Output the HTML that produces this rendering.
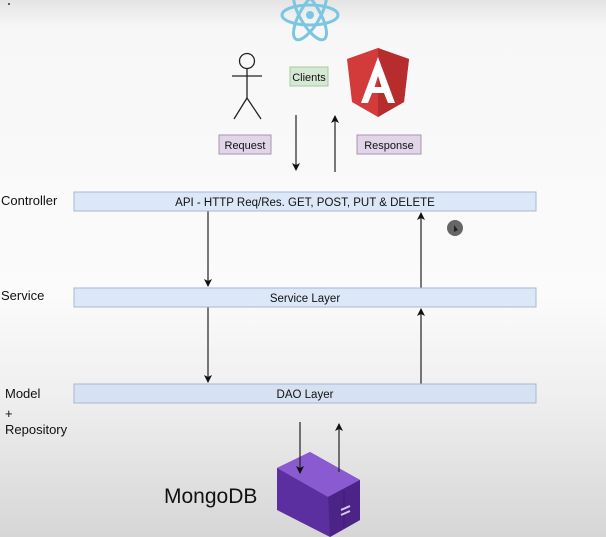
<!DOCTYPE html>
<html><head><meta charset="utf-8"><style>
html,body{margin:0;padding:0;width:606px;height:537px;overflow:hidden}
svg{display:block}
text{font-family:"Liberation Sans",sans-serif}
</style></head><body>
<svg width="606" height="537" viewBox="0 0 606 537" xmlns="http://www.w3.org/2000/svg">
<defs>
<linearGradient id="bg" x1="0" y1="0" x2="0" y2="1">
<stop offset="0" stop-color="#e4e4e4"/>
<stop offset="0.05" stop-color="#f7f7f7"/>
<stop offset="0.55" stop-color="#fbfbfb"/>
<stop offset="0.75" stop-color="#eeeeee"/>
<stop offset="1" stop-color="#d6d6d6"/>
</linearGradient>
<marker id="ah" markerWidth="8" markerHeight="8" refX="7" refY="4" orient="auto" markerUnits="userSpaceOnUse">
<path d="M0,0 L8,4 L0,8 L2,4 z" fill="#111"/>
</marker>
</defs>
<rect width="606" height="537" fill="url(#bg)"/>
<circle cx="9" cy="4" r="1" fill="#333"/>
<g transform="translate(310,15)" fill="none" stroke="#7cc6e2" stroke-width="3">
<ellipse rx="28" ry="10"/>
<ellipse rx="28" ry="10" transform="rotate(60)"/>
<ellipse rx="28" ry="10" transform="rotate(-60)"/>
<circle r="4" fill="#7cc6e2" stroke="none"/>
</g>
<g stroke="#222" stroke-width="1.3" fill="none">
<circle cx="247" cy="61" r="7.5"/>
<line x1="247" y1="69" x2="247" y2="98"/>
<line x1="232" y1="76" x2="262" y2="76"/>
<line x1="247" y1="98" x2="234" y2="119"/>
<line x1="247" y1="98" x2="261" y2="119"/>
</g>
<rect x="290" y="67" width="38" height="19" fill="#d5e8d4" stroke="#a8c8a0"/>
<text x="309" y="81" font-size="11" text-anchor="middle" fill="#111">Clients</text>
<path d="M347,59 L378,48 L409,59 L404,102 L378,117 L352,102 Z" fill="#d33a3a"/>
<path d="M378,48 L409,59 L404,102 L378,117 Z" fill="#b72d2d"/>
<path d="M378,57 L361,103 L368,103 L372,93 L384,93 L388,103 L395,103 Z M374.5,87 L378,76 L381.5,87 Z" fill="#fff"/>
<rect x="219" y="135" width="52" height="19" fill="#e1d5e7" stroke="#a893b3"/>
<text x="245" y="149" font-size="11" text-anchor="middle" fill="#111">Request</text>
<rect x="357" y="135" width="64" height="19" fill="#e1d5e7" stroke="#a893b3"/>
<text x="389" y="149" font-size="11" text-anchor="middle" fill="#111">Response</text>
<g stroke="#222" stroke-width="1.2">
<line x1="296" y1="115" x2="296" y2="170" marker-end="url(#ah)"/>
<line x1="335" y1="172" x2="335" y2="116" marker-end="url(#ah)"/>
<line x1="208" y1="211" x2="208" y2="286" marker-end="url(#ah)"/>
<line x1="421" y1="288" x2="421" y2="213" marker-end="url(#ah)"/>
<line x1="208" y1="307" x2="208" y2="382" marker-end="url(#ah)"/>
<line x1="421" y1="384" x2="421" y2="309" marker-end="url(#ah)"/>
</g>
<rect x="74" y="192" width="462" height="19" fill="#dce8f8" stroke="#a7b8d0"/>
<text x="305" y="206" font-size="11.5" text-anchor="middle" fill="#111">API - HTTP Req/Res. GET, POST, PUT &amp; DELETE</text>
<rect x="74" y="288" width="462" height="19" fill="#dce8f8" stroke="#a7b8d0"/>
<text x="305" y="302" font-size="11.5" text-anchor="middle" fill="#111">Service Layer</text>
<rect x="74" y="384" width="462" height="19" fill="#d6e2f2" stroke="#a7b8d0"/>
<text x="305" y="398" font-size="11.5" text-anchor="middle" fill="#111">DAO Layer</text>
<text x="1" y="205" font-size="13" fill="#111">Controller</text>
<text x="1" y="300" font-size="13" fill="#111">Service</text>
<text x="5" y="398" font-size="13" fill="#111">Model</text>
<text x="5" y="418" font-size="13" fill="#111">+</text>
<text x="5" y="434" font-size="13" fill="#111">Repository</text>
<circle cx="455" cy="228" r="8" fill="#666"/>
<path d="M454,225 L454,232 L458,230 Z" fill="#222"/>
<path d="M277,468 L310,452 L360,480 L360,520 L330,537 L277,510 Z" fill="#5b2fa0"/>
<path d="M277,468 L310,452 L360,480 L328,497 Z" fill="#8a5ad0"/>
<path d="M328,497 L360,480 L360,520 L330,537 Z" fill="#4c2488"/>
<line x1="344" y1="490" x2="344" y2="528" stroke="#3e1c72" stroke-width="1"/>
<path d="M341,510 L350,506 M341,515 L350,511" stroke="#d8c8f0" stroke-width="2"/>
<g stroke="#222" stroke-width="1.2">
<line x1="300" y1="422" x2="300" y2="473" marker-end="url(#ah)"/>
<line x1="339" y1="472" x2="339" y2="424" marker-end="url(#ah)"/>
</g>
<text x="164" y="503" font-size="21" fill="#111">MongoDB</text>
</svg>
</body></html>
